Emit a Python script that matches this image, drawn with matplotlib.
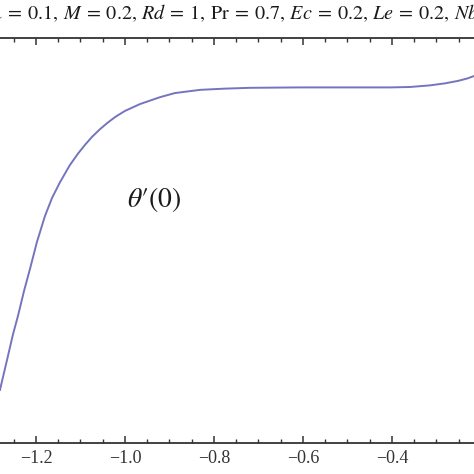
import matplotlib
matplotlib.use("Agg")
import matplotlib.pyplot as plt
from matplotlib.ticker import MultipleLocator, FuncFormatter

# Data (x: parameter, y: theta'(0) in arbitrary units; the y-axis is cropped)
x_vals = [-1.281, -1.272, -1.263, -1.252, -1.240, -1.227, -1.213, -1.198, -1.180,
          -1.164, -1.146, -1.124, -1.106, -1.090, -1.074, -1.056, -1.040, -1.022,
          -1.000, -0.966, -0.921, -0.888, -0.831, -0.775, -0.719, -0.607, -0.494,
          -0.405, -0.360, -0.315, -0.281, -0.252, -0.231, -0.216]
y_vals = [0.131, 0.173, 0.215, 0.267, 0.316, 0.375, 0.432, 0.496, 0.560,
          0.605, 0.644, 0.686, 0.714, 0.736, 0.756, 0.775, 0.790, 0.805,
          0.820, 0.837, 0.854, 0.864, 0.872, 0.875, 0.877, 0.878, 0.878,
          0.878, 0.879, 0.883, 0.888, 0.894, 0.900, 0.906]
x_major_ticks = [-1.2, -1.0, -0.8, -0.6, -0.4]
title_text = (r"$\Re\:=\:0.1,\,M\:=\:0.2,\,Rd\:=\:1,\,\mathrm{Pr}\:=\:0.7,\,"
              r"Ec\:=\:0.2,\,Le\:=\:0.2,\,Nb\:=\:0.1$")
label_text = r"$\theta{\prime}(0)$"

plt.rcParams['mathtext.fontset'] = 'stix'

W = H = 474
fig = plt.figure(figsize=(4.74, 4.74), dpi=100)
bottom = (H - 443) / H
top = (H - 38) / H
ax = fig.add_axes([0, bottom, 1, top - bottom])

ax.plot(x_vals, y_vals, color='#7474bf', lw=1.4, solid_joinstyle='round')
ax.set_xlim(-1.2809, -0.2157)
ax.set_ylim(0, 1)

for s in ['left', 'right']:
    ax.spines[s].set_visible(False)
for s in ['top', 'bottom']:
    ax.spines[s].set_color('#333333')
    ax.spines[s].set_linewidth(1.3)

ax.set_xticks(x_major_ticks)
ax.xaxis.set_minor_locator(MultipleLocator(0.05))
ax.xaxis.set_major_formatter(FuncFormatter(lambda v, p: f"\u2212{abs(v):.1f}"))
ax.tick_params(axis='x', which='both', direction='in', top=True, bottom=True,
               color='#333333')
ax.tick_params(axis='x', which='major', length=5, width=1.1, pad=5,
               labelsize=13, labelcolor='#333333')
ax.tick_params(axis='x', which='minor', length=3, width=1.0)
for lbl in ax.get_xticklabels():
    lbl.set_family('Liberation Serif')
ax.set_yticks([])

fig.text(-16 / W, 1 - 13 / H, title_text, fontsize=14.5, ha='left', va='center',
         color='#1a1a1a')
fig.text(154 / W, 1 - 200 / H, label_text, fontsize=20, ha='center', va='center',
         color='#1a1a1a')

fig.savefig("out.png", dpi=100)
